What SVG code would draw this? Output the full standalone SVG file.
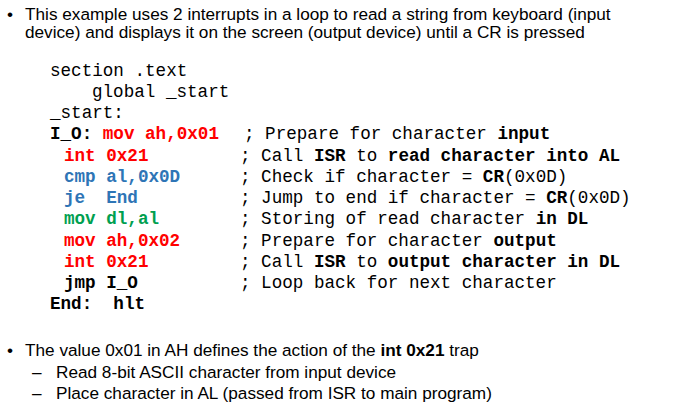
<svg xmlns="http://www.w3.org/2000/svg" width="682" height="416" viewBox="0 0 682 416">
<style>
text{white-space:pre}
.s{font-family:"Liberation Sans",Arial,sans-serif;font-size:17.2px;fill:#000}
.m{font-family:"Liberation Mono","Courier New",monospace;font-size:17.6px;fill:#000}
.b{font-weight:bold}
.r{fill:#ff0000;font-weight:bold}
.u{fill:#2e75b6;font-weight:bold}
.g{fill:#00a050;font-weight:bold}
</style>
<rect width="682" height="416" fill="#fff"/>
<g id="intro">
<text class="s" x="7" y="20">•</text>
<text class="s" x="25" y="20">This example uses 2 interrupts in a loop to read a string from keyboard (input</text>
<text class="s" x="25" y="38">device) and displays it on the screen (output device) until a CR is pressed</text>
</g>
<g id="code" class="m">
<text x="50" y="76">section .text</text>
<text x="92" y="97">global _start</text>
<text x="50" y="118">_start:</text>
<text x="50" y="139"><tspan class="b">I_O:</tspan> <tspan class="r">mov ah,0x01</tspan></text>
<text x="64" y="161" class="r">int 0x21</text>
<text x="64" y="182" class="u">cmp al,0x0D</text>
<text x="64" y="203" class="u">je  End</text>
<text x="64" y="224" class="g">mov dl,al</text>
<text x="64" y="246" class="r">mov ah,0x02</text>
<text x="64" y="267" class="r">int 0x21</text>
<text x="64" y="288" class="b">jmp I_O</text>
<text x="50" y="309" class="b">End:  hlt</text>
<text x="244" y="139">; Prepare for character <tspan class="b">input</tspan></text>
<text x="240" y="161">; Call <tspan class="b">ISR</tspan> to <tspan class="b">read character into AL</tspan></text>
<text x="240" y="182">; Check if character = <tspan class="b">CR</tspan>(0x0D)</text>
<text x="240" y="203">; Jump to end if character = <tspan class="b">CR</tspan>(0x0D)</text>
<text x="240" y="224">; Storing of read character <tspan class="b">in DL</tspan></text>
<text x="240" y="246">; Prepare for character <tspan class="b">output</tspan></text>
<text x="240" y="267">; Call <tspan class="b">ISR</tspan> to <tspan class="b">output character in DL</tspan></text>
<text x="240" y="288">; Loop back for next character</text>
</g>
<g id="notes">
<text class="s" x="7" y="356">•</text>
<text class="s" x="25" y="356">The value 0x01 in AH defines the action of the <tspan class="b">int 0x21</tspan> trap</text>
<text class="s" x="32" y="378">–</text>
<text class="s" x="56" y="378">Read 8-bit ASCII character from input device</text>
<text class="s" x="32" y="399">–</text>
<text class="s" x="56" y="399">Place character in AL (passed from ISR to main program)</text>
</g>
</svg>
